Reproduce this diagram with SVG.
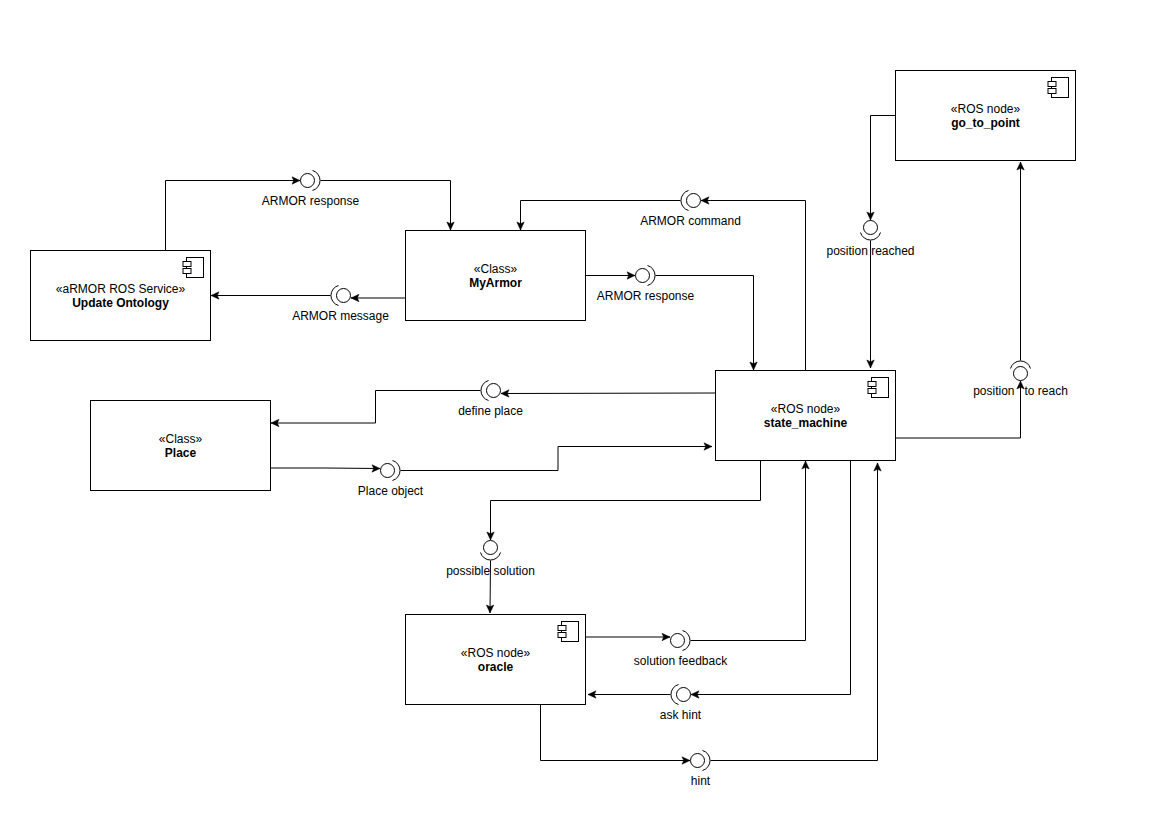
<svg xmlns="http://www.w3.org/2000/svg" width="1169" height="827" viewBox="0 0 1169 827">
<style>
text{font-family:"Liberation Sans",Arial,Helvetica,sans-serif;font-size:12px;fill:#000;text-anchor:middle;white-space:pre}
.b{font-weight:bold}
.box{fill:#fff;stroke:#000;stroke-width:1}
.ln{fill:none;stroke:#000;stroke-width:1}
.ci{fill:#fff;stroke:#000;stroke-width:1}
.ar{fill:none;stroke:#000;stroke-width:1}
</style>
<defs>
<marker id="a" markerUnits="userSpaceOnUse" markerWidth="12" markerHeight="10" refX="8" refY="5" orient="auto" overflow="visible"><path d="M0 1.3L8 5L0 8.7L1.7 5Z" fill="#000" stroke="#000" stroke-width="0.5"/></marker>
<g id="icon"><rect x="-24" y="7" width="17" height="20" class="box"/><rect x="-27.5" y="11" width="8" height="5" class="box"/><rect x="-27.5" y="18" width="8" height="5" class="box"/></g>
<g id="ifc"><circle r="7" class="ci"/><path d="M4-10A10.4 10.4 0 0 1 4 10" class="ar" transform="translate(1 0)"/></g>
</defs>
<rect width="1169" height="827" fill="#fff"/>
<g id="connectors">
<path class="ln" marker-end="url(#a)" d="M165.5 250.5V180.5H300"/>
<path class="ln" marker-end="url(#a)" d="M320.5 180.5H450.5V230"/>
<path class="ln" marker-end="url(#a)" d="M805.5 370.5V200.5H701"/>
<path class="ln" marker-end="url(#a)" d="M680.5 200.5H520.5V230"/>
<path class="ln" marker-end="url(#a)" d="M585.5 275.5H635"/>
<path class="ln" marker-end="url(#a)" d="M655.5 275.5H753.5V370"/>
<path class="ln" marker-end="url(#a)" d="M405.5 298H351"/>
<path class="ln" marker-end="url(#a)" d="M330.5 295.5H211"/>
<path class="ln" marker-end="url(#a)" d="M895.5 115.5H870.5V220"/>
<path class="ln" marker-end="url(#a)" d="M870.5 240.5V368"/>
<path class="ln" marker-end="url(#a)" d="M895.5 438H1020.5V381"/>
<path class="ln" marker-end="url(#a)" d="M1020.5 360.5V162"/>
<path class="ln" marker-end="url(#a)" d="M715.5 393L501 393.5"/>
<path class="ln" marker-end="url(#a)" d="M480.5 390.5H375.5V423H271"/>
<path class="ln" marker-end="url(#a)" d="M270.5 468H325L380 468.5"/>
<path class="ln" marker-end="url(#a)" d="M400.5 470.5H558V446.5H712"/>
<path class="ln" marker-end="url(#a)" d="M760.5 460.5V500.5H490.5V540"/>
<path class="ln" marker-end="url(#a)" d="M490.5 560.5L490 613"/>
<path class="ln" marker-end="url(#a)" d="M585.5 637H630L670 637"/>
<path class="ln" marker-end="url(#a)" d="M690.5 640.5H805.5V461"/>
<path class="ln" marker-end="url(#a)" d="M850.5 460.5V694.5H691"/>
<path class="ln" marker-end="url(#a)" d="M670.5 694.5H588"/>
<path class="ln" marker-end="url(#a)" d="M540.5 705V760.5H690"/>
<path class="ln" marker-end="url(#a)" d="M710.5 760.5H877.5V463"/>
</g>
<g id="go_to_point"><rect class="box" x="895.5" y="70.5" width="180" height="90"/><use href="#icon" x="1075.5" y="70.5"/><text x="985.5" y="113">«ROS node»</text><text class="b" x="985.5" y="127">go_to_point</text></g>
<g id="update_ontology"><rect class="box" x="30.5" y="250.5" width="180" height="90"/><use href="#icon" x="210.5" y="250.5"/><text x="120.5" y="293">«aRMOR ROS Service»</text><text class="b" x="120.5" y="307">Update Ontology</text></g>
<g id="myarmor"><rect class="box" x="405.5" y="230.5" width="180" height="90"/><text x="495.5" y="273">«Class»</text><text class="b" x="495.5" y="287">MyArmor</text></g>
<g id="state_machine"><rect class="box" x="715.5" y="370.5" width="180" height="90"/><use href="#icon" x="895.5" y="370.5"/><text x="805.5" y="413">«ROS node»</text><text class="b" x="805.5" y="427">state_machine</text></g>
<g id="place"><rect class="box" x="90.5" y="400.5" width="180" height="90"/><text x="180.5" y="443">«Class»</text><text class="b" x="180.5" y="457">Place</text></g>
<g id="oracle"><rect class="box" x="405.5" y="614.5" width="180" height="90"/><use href="#icon" x="585.5" y="614.5"/><text x="495.5" y="657">«ROS node»</text><text class="b" x="495.5" y="671">oracle</text></g>
<g id="if_armor_response_1"><use href="#ifc" transform="translate(307.5 180.5)"/><text x="310.5" y="205">ARMOR response</text></g>
<g id="if_armor_command"><use href="#ifc" transform="translate(693.5 200.5) rotate(180)"/><text x="690.5" y="225">ARMOR command</text></g>
<g id="if_armor_response_2"><use href="#ifc" transform="translate(642.5 275.5)"/><text x="645.5" y="300">ARMOR response</text></g>
<g id="if_armor_message"><use href="#ifc" transform="translate(343.5 295.5) rotate(180)"/><text x="340.5" y="320">ARMOR message</text></g>
<g id="if_position_reached"><use href="#ifc" transform="translate(870.5 227.5) rotate(90)"/><text x="870.5" y="255">position reached</text></g>
<g id="if_position_to_reach"><use href="#ifc" transform="translate(1020.5 373.5) rotate(-90)"/><text x="1020.5" y="395">position   to reach</text></g>
<g id="if_define_place"><use href="#ifc" transform="translate(493.5 390.5) rotate(180)"/><text x="490.5" y="415">define place</text></g>
<g id="if_place_object"><use href="#ifc" transform="translate(387.5 470.5)"/><text x="390.5" y="495">Place object</text></g>
<g id="if_possible_solution"><use href="#ifc" transform="translate(490.5 547.5) rotate(90)"/><text x="490.5" y="575">possible solution</text></g>
<g id="if_solution_feedback"><use href="#ifc" transform="translate(677.5 640.5)"/><text x="680.5" y="665">solution feedback</text></g>
<g id="if_ask_hint"><use href="#ifc" transform="translate(683.5 694.5) rotate(180)"/><text x="680.5" y="719">ask hint</text></g>
<g id="if_hint"><use href="#ifc" transform="translate(697.5 760.5)"/><text x="700.5" y="785">hint</text></g>
</svg>
